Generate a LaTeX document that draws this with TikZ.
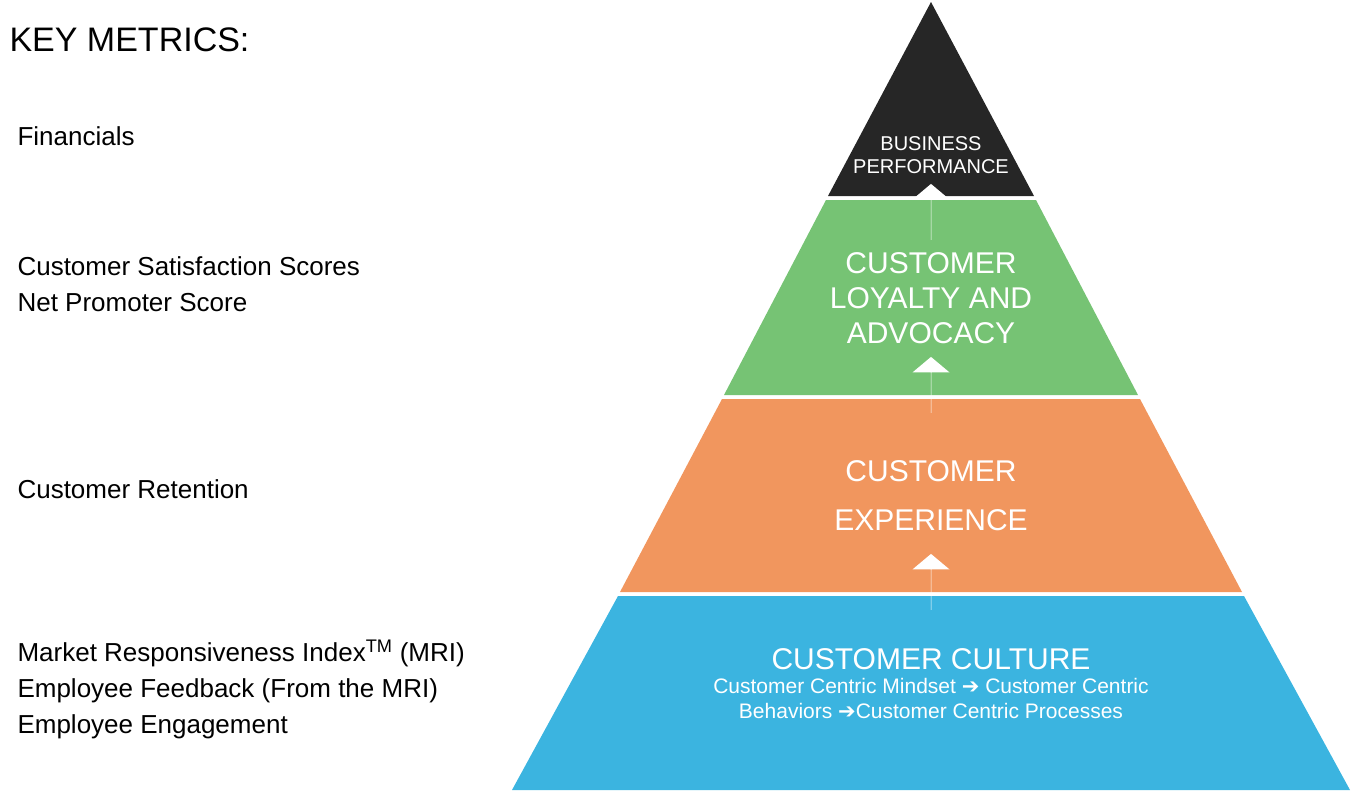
\documentclass[tikz,border=0pt]{standalone}
\usepackage{fontspec}
\setmainfont{Liberation Sans}
\newfontfamily\arrowfont{DejaVu Sans}
\usetikzlibrary{shapes.arrows, positioning}
\definecolor{pyrBlack}{RGB}{38, 38, 38}
\definecolor{pyrGreen}{RGB}{118, 195, 116}
\definecolor{pyrOrange}{RGB}{241, 150, 94}
\definecolor{pyrBlue}{RGB}{59, 180, 224}
\newcommand{\pyrarrow}{{\arrowfont\char"2794}}

\begin{document}
\begin{tikzpicture}[
    x=1pt, y=-1pt,
    % Estilo para el texto de las capas
    layer_text/.style={
        text=white,
        align=center,
        font=\fontsize{30}{35}\selectfont
    },
    % Estilo para las metricas
    metric/.style={
        anchor=west,
        align=left,
        font=\fontsize{26}{36}\selectfont
    },
    % Estilo para flechas blancas
    up_arrow/.style={
        single arrow,
        fill=white,
        draw=none,
        shape border rotate=90,
        minimum width=37pt,
        single arrow head extend=15pt,
        single arrow head indent=0pt,
        minimum height=56pt,
        single arrow tip angle=100,
        inner sep=0pt
    }
]
    \useasboundingbox (0,0) rectangle (1358,795);

    % --- 1. Capas de la piramide ---
    \fill[pyrBlack] (931,2) -- (1034,196) -- (828,196) -- cycle;
    \fill[pyrGreen] (826,200) -- (1036,200) -- (1138,395) -- (724,395) -- cycle;
    \fill[pyrOrange] (722,399) -- (1140,399) -- (1242,592) -- (620,592) -- cycle;
    \fill[pyrBlue] (618,596) -- (1244,596) -- (1350,790) -- (512,790) -- cycle;

    % --- 2. Textos de las capas ---
    \node[layer_text, font=\fontsize{20}{23}\selectfont] (business) at (931,155) {BUSINESS\\PERFORMANCE};
    \node[layer_text] (loyalty) at (931,298) {CUSTOMER\\LOYALTY AND\\ADVOCACY};
    \node[layer_text] (experience) at (931,496) {CUSTOMER\\[14pt]EXPERIENCE};
    \node[layer_text] (culture) at (931,659) {CUSTOMER CULTURE};
    \node[layer_text, font=\fontsize{21}{25}\selectfont, below=2pt of culture] (culture_sub) {Customer Centric Mindset \pyrarrow{} Customer Centric\\Behaviors \pyrarrow Customer Centric Processes};

    % --- 3. Flechas ---
    \node[up_arrow] (arrow_top) at (931,212) {};
    \node[up_arrow] (arrow_mid) at (931,385) {};
    \node[up_arrow] (arrow_low) at (931,582) {};

    % --- 4. Metricas (izquierda) ---
    \node[anchor=west, font=\fontsize{34}{40}\selectfont] (title) at (6,40) {KEY METRICS:};
    \node[metric] (m_fin) at (14,136) {Financials};
    \node[metric] (m_sat) at (14,284) {Customer Satisfaction Scores\\Net Promoter Score};
    \node[metric] (m_ret) at (14,489) {Customer Retention};
    \node[metric] (m_mri) at (14,689) {Market Responsiveness Index\textsuperscript{TM} (MRI)\\Employee Feedback (From the MRI)\\Employee Engagement};

\end{tikzpicture}
\end{document}
